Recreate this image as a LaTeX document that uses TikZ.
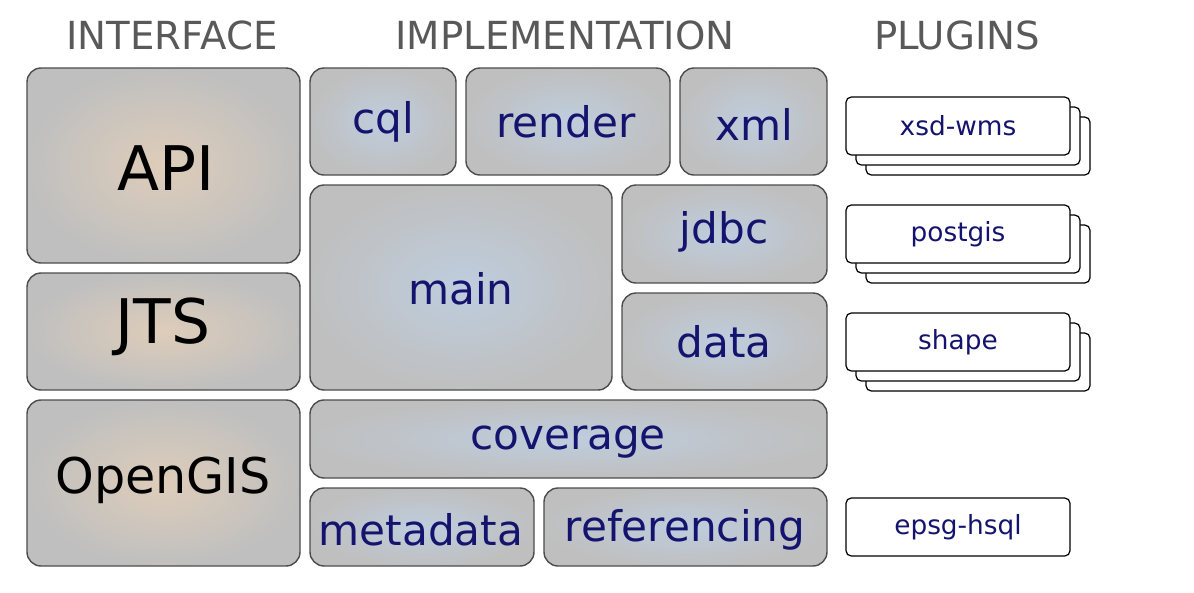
\documentclass[tikz,border=0pt]{standalone}
\usepackage{fontspec}
\setmainfont{DejaVu Sans}
\definecolor{tanc}{RGB}{222,205,185}
\definecolor{bluc}{RGB}{190,205,222}
\definecolor{txb}{RGB}{20,20,110}
\begin{document}
\begin{tikzpicture}[x=0.02cm,y=-0.02cm,
 box/.style={draw=black!70,line width=0.8pt,rounded corners=8pt,inner color=#1,outer color=black!25},
 tan/.style={box=tanc},
 blu/.style={box=bluc},
 plug/.style={draw=black,line width=0.7pt,rounded corners=3pt,fill=white},
 hdr/.style={text=black!65,font=\fontsize{22}{22}\selectfont},
 it/.style={text=txb,font=\fontsize{24}{24}\selectfont},
 ip/.style={text=txb,font=\fontsize{15}{15}\selectfont}]
\useasboundingbox (0,0) rectangle (1194,592);
\node[hdr] (h1) at (172,35) {INTERFACE};
\node[hdr] (h2) at (565,35) {IMPLEMENTATION};
\node[hdr] (h3) at (957,35) {PLUGINS};
\path[tan] (27,68) rectangle (300,263); \node[font=\fontsize{35}{35}\selectfont] (api) at (166,168) {API};
\path[tan] (27,273) rectangle (300,390); \node[font=\fontsize{35}{35}\selectfont] (jts) at (163,327) {JTS};
\path[tan] (27,400) rectangle (300,566); \node[font=\fontsize{28}{28}\selectfont] (ogis) at (163,480) {OpenGIS};
\path[blu] (310,68) rectangle (456,175); \node[it] (cql) at (383,122) {cql};
\path[blu] (466,68) rectangle (670,175); \node[it] (render) at (566,122) {render};
\path[blu] (680,68) rectangle (827,175); \node[it] (xml) at (754,124) {xml};
\path[blu] (310,185) rectangle (612,390); \node[it] (main) at (461,289) {main};
\path[blu] (622,185) rectangle (827,283); \node[it] (jdbc) at (724,232) {jdbc};
\path[blu] (622,293) rectangle (827,390); \node[it] (data) at (724,342) {data};
\path[blu] (310,400) rectangle (827,478); \node[it] (cov) at (568,442) {coverage};
\path[blu] (310,488) rectangle (534,566); \node[it] (meta) at (421,530) {metadata};
\path[blu] (544,488) rectangle (827,566); \node[it] (ref) at (685,530) {referencing};
\foreach \y/\t/\n in {97/xsd-wms/p1,205/postgis/p2,313/shape/p3}{
 \path[plug] (866,\y+20) rectangle (1090,\y+78);
 \path[plug] (856,\y+10) rectangle (1080,\y+68);
 \path[plug] (846,\y) rectangle (1070,\y+58);
 \node[ip] (\n) at (958,\y+29) {\t};
}
\path[plug] (846,498) rectangle (1070,556); \node[ip] (p4) at (958,527) {epsg-hsql};
\end{tikzpicture}
\end{document}
